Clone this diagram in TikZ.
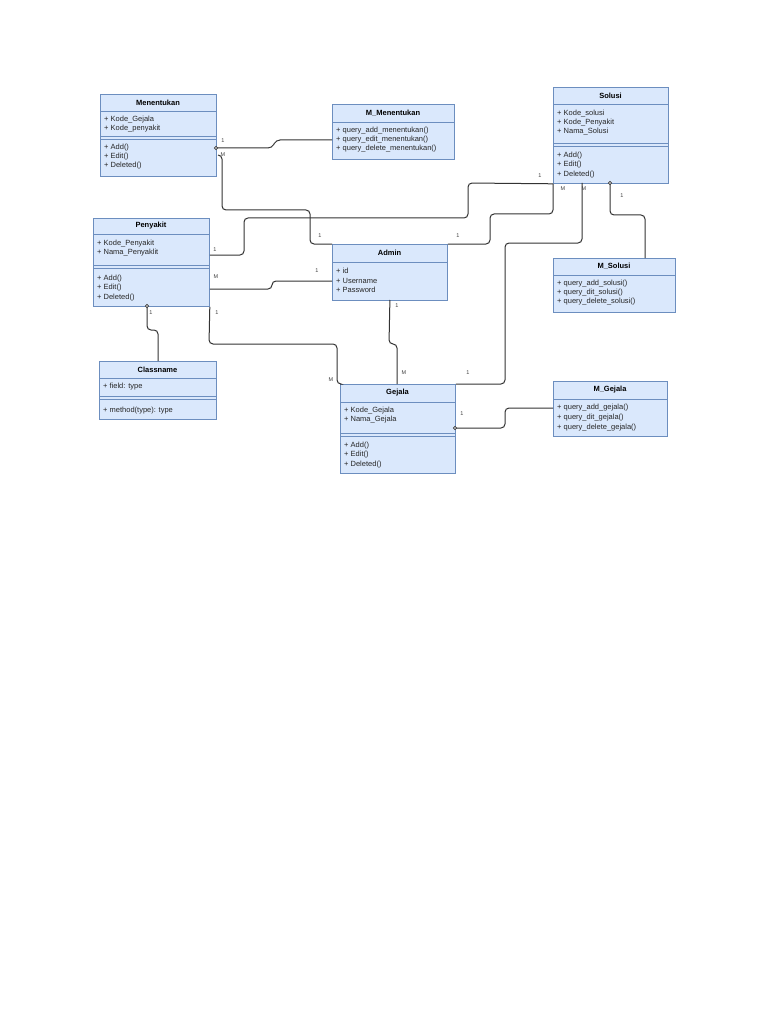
\documentclass[tikz,border=0pt]{standalone}
\usepackage{fontspec}
\setmainfont{Liberation Sans}
\begin{document}
\begin{tikzpicture}[x=1pt,y=-1pt,
  cls/.style={draw=bd,fill=bx,line width=0.8pt,inner sep=0pt,anchor=north west},
  sepl/.style={draw=bd,line width=0.8pt},
  ttl/.style={font=\fontsize{7.5}{9}\selectfont\bfseries,inner sep=0pt},
  txt/.style={font=\fontsize{7.5}{9}\selectfont,inner sep=0pt,anchor=west,text=black!85},
  lab/.style={font=\fontsize{5.5}{6}\selectfont,inner sep=0pt,text=black!75},
  con/.style={draw=black!80,line width=1pt,rounded corners=4pt},
  circ/.style={draw=black!80,fill=white,line width=0.6pt}]
\definecolor{bx}{HTML}{DAE8FC}
\definecolor{bd}{HTML}{6C8EBF}
\useasboundingbox (0,0) rectangle (768,1024);
\fill[white] (0,0) rectangle (768,1024);
\newcommand\ubox[7]{%
  \node[cls,minimum width={#4-#2},minimum height={#5-#3}] (#1) at (#2,#3) {};
  \draw[sepl] (#2,#6)--(#4,#6);
  \node[ttl] at ({(#2+#4)/2},{(#3+#6)/2}) {#7};}
\newcommand\dbl[3]{\draw[sepl] (#1,#3)--(#2,#3); \draw[sepl] (#1,#3+3)--(#2,#3+3);}
\newcommand\tl[3]{\node[txt] at (#1,#2) {#3};}
% Menentukan
\ubox{men}{100}{94}{216}{176}{111}{Menentukan}
\dbl{100}{216}{136}
\tl{104}{120}{+ Kode\_Gejala}\tl{104}{129}{+ Kode\_penyakit}
\tl{104}{148}{+ Add()}\tl{104}{157}{+ Edit()}\tl{104}{166}{+ Deleted()}
% M_Menentukan
\ubox{mmen}{332}{104}{454}{159}{122}{M\_Menentukan}
\tl{336}{131}{+ query\_add\_menentukan()}\tl{336}{140}{+ query\_edit\_menentukan()}\tl{336}{149}{+ query\_delete\_menentukan()}
% Penyakit
\ubox{pen}{93}{218}{209}{306}{234}{Penyakit}
\dbl{93}{209}{265}
\tl{97}{244}{+ Kode\_Penyakit}\tl{97}{253}{+ Nama\_Penyaklit}
\tl{97}{279}{+ Add()}\tl{97}{288}{+ Edit()}\tl{97}{298}{+ Deleted()}
% Admin
\ubox{adm}{332}{244}{447}{300}{262}{Admin}
\tl{336}{271}{+ id}\tl{336}{281}{+ Username}\tl{336}{290}{+ Password}
% Solusi
\ubox{sol}{553}{87}{668}{183}{104}{Solusi}
\dbl{553}{668}{143}
\tl{557}{114}{+ Kode\_solusi}\tl{557}{123}{+ Kode\_Penyakit}\tl{557}{132}{+ Nama\_Solusi}
\tl{557}{156}{+ Add()}\tl{557}{165}{+ Edit()}\tl{557}{175}{+ Deleted()}
% M_Solusi
\ubox{msol}{553}{258}{675}{312}{275}{M\_Solusi}
\tl{557}{284}{+ query\_add\_solusi()}\tl{557}{293}{+ query\_dit\_solusi()}\tl{557}{302}{+ query\_delete\_solusi()}
% Classname
\ubox{cls}{99}{361}{216}{419}{378}{Classname}
\dbl{99}{216}{396}
\tl{103}{387}{+ field: type}\tl{103}{411}{+ method(type): type}
% Gejala
\ubox{gej}{340}{384}{455}{473}{402}{Gejala}
\dbl{340}{455}{433}
\tl{344}{411}{+ Kode\_Gejala}\tl{344}{420}{+ Nama\_Gejala}
\tl{344}{446}{+ Add()}\tl{344}{455}{+ Edit()}\tl{344}{465}{+ Deleted()}
% M_Gejala
\ubox{mgej}{553}{381}{667}{436}{399}{M\_Gejala}
\tl{557}{408}{+ query\_add\_gejala()}\tl{557}{418}{+ query\_dit\_gejala()}\tl{557}{428}{+ query\_delete\_gejala()}
% connectors
\coordinate (a1) at (216,148);
\draw[con] (a1) -- (272,148) -- (276,140) -- (mmen.west |- 0,140);
\draw[circ] (a1) circle (1.6);
\node[lab] at (223,141) {1}; \node[lab] at (223,155) {M};
\draw[con] (218,155) -- (222,155) -- (222,210) -- (310,210) -- (310,244) -- (adm.north west);
\node[lab] at (320,236) {1};
\draw[con] (pen.east |- 0,255) -- (244,255) -- (244,218) -- (468,218) -- (468,183) -- (sol.south west);
\node[lab] at (215,250) {1}; \node[lab] at (540,176) {1};
\draw[con] (adm.north east) -- (490,244) -- (490,214) -- (553,214) -- (sol.south west);
\node[lab] at (458,236) {1}; \node[lab] at (563,189) {M};
\draw[con] (pen.east |- 0,289) -- (272,289) -- (272,281) -- (adm.west |- 0,281);
\node[lab] at (216,277) {M}; \node[lab] at (317,271) {1};
\draw[con] (pen.south east) -- (209,344) -- (337,344) -- (337,384) -- (gej.north west);
\node[lab] at (217,313) {1}; \node[lab] at (331,380) {M};
\draw[con] (adm.south |- 0,300) -- (389,344) -- (397,344) -- (397,384);
\node[lab] at (397,306) {1}; \node[lab] at (404,373) {M};
\draw[con] (582,183) -- (582,243) -- (505,243) -- (505,384) -- (gej.north east);
\node[lab] at (468,373) {1}; \node[lab] at (584,189) {M};
\coordinate (s1) at (610,183);
\draw[con] (s1) -- (610,215) -- (645,215) -- (msol.north -| 645,0);
\draw[circ] (s1) circle (1.6);
\node[lab] at (622,196) {1};
\coordinate (g1) at (455,428);
\draw[con] (g1) -- (505,428) -- (505,408) -- (mgej.west |- 0,408);
\draw[circ] (g1) circle (1.6);
\node[lab] at (462,414) {1};
\coordinate (p1) at (147,306);
\draw[con] (p1) -- (147,330) -- (158,330) -- (cls.north -| 158,0);
\draw[circ] (p1) circle (1.6);
\node[lab] at (151,313) {1};
\end{tikzpicture}
\end{document}
